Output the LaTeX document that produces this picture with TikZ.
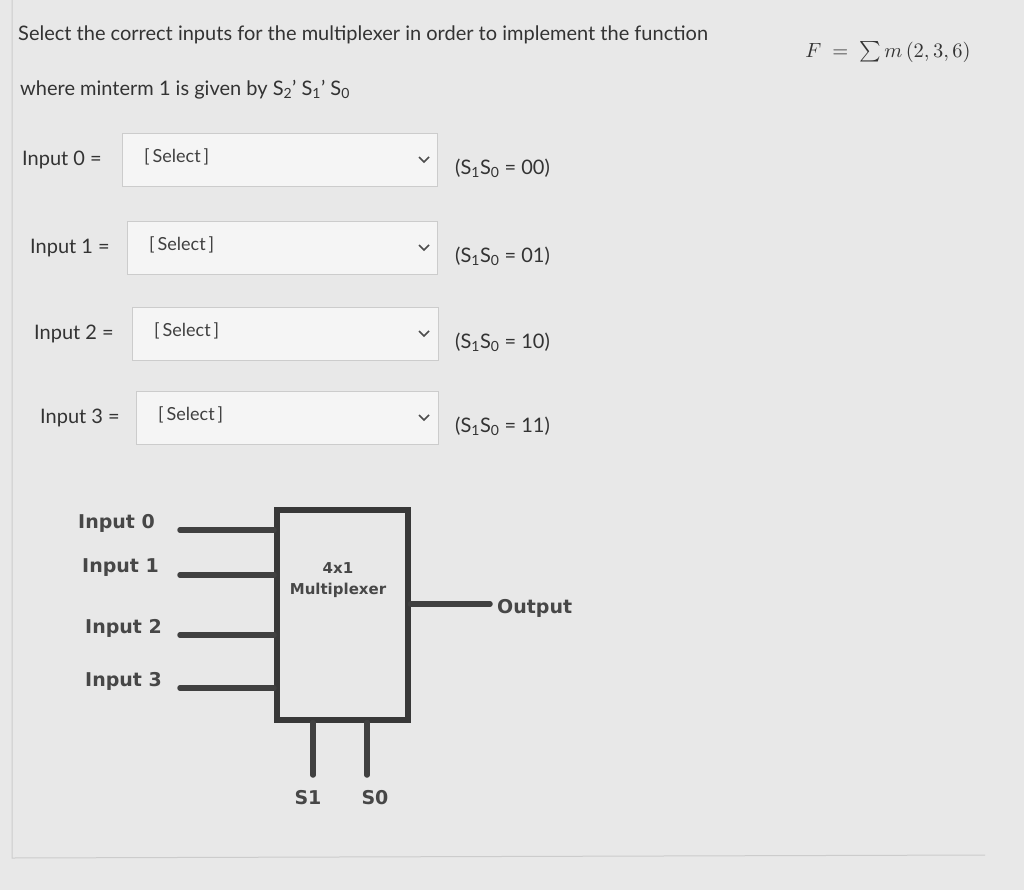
\documentclass[tikz,border=0pt]{standalone}
\usepackage{fontspec}
\setmainfont{Lato}
\newfontfamily\boldf{DejaVu Sans}
\usetikzlibrary{positioning}
\begin{document}
\begin{tikzpicture}[x=1pt,y=-1pt,
  txt/.style={anchor=west,inner sep=0,text=black!80,font=\fontsize{20}{24}\selectfont},
  dd/.style={draw=black!20,fill=black!4,line width=0.8pt,anchor=north west,inner sep=0},
  sel/.style={anchor=west,inner sep=0,text=black!75,font=\fontsize{18}{22}\selectfont},
  lab/.style={inner sep=0,text=black!72,font=\boldf\bfseries\fontsize{19}{22}\selectfont},
  wire/.style={line width=5.5pt,draw=black!75,line cap=round}]
\fill[black!9] (0,0) rectangle (1024,890);
\useasboundingbox (0,0) rectangle (1024,890);
\draw[black!20,line width=1pt] (12,0) -- (12,858) -- (985,855);
\node[txt] (t1) at (18,35) {Select the correct inputs for the multiplexer in order to implement the function};
\node[anchor=west,inner sep=0,text=black!80,scale=2.05] (f) at (805,52) {$F\ =\ \sum m\,(2,3,6)$};
\node[txt] (t2) at (20,90) {where minterm 1 is given by S\textsubscript{2}' S\textsubscript{1}' S\textsubscript{0}};
\foreach \i/\x/\y/\bx/\bw/\c in {0/22/160/122/315/00,1/30/248/127/310/01,2/34/334/132/306/10,3/40/418/136/302/11}{
  \node[txt] (in\i) at (\x,\y) {Input \i\ =};
  \node[dd,minimum width=\bw,minimum height=53] (d\i) at (\bx,\y-27) {};
  \node[sel] (s\i) at (\bx+22,\y-3) {[\,Select\,]};
  \node[txt] (c\i) at (455,\y+8) {(S\textsubscript{1}S\textsubscript{0} = \c)};
  \draw[black!70,line width=1.6pt] (419,\y-3) -- (424,\y+2) -- (429,\y-3);
}
\node[draw=black!78,line width=5.5pt,minimum width=131,minimum height=210,anchor=north west,inner sep=0] (mux) at (274,507) {};
\node[lab,align=center,font=\boldf\bfseries\fontsize{15}{21}\selectfont] (mt) at (338,580) {4x1\\Multiplexer};
\foreach \i/\y/\lx in {0/530/78,1/575/82,2/635/85,3/688/85}{
  \node[lab,anchor=west] (l\i) at (\lx,\y-9+2) {Input \i};
  \coordinate (w\i) at (180,\y);
  \draw[wire] (w\i) -- (w\i -| mux.west);
}
\coordinate (o) at (490,604);
\draw[wire] (o -| mux.east) -- (o);
\node[lab,anchor=west] (out) at (497,608) {Output};
\coordinate (a1) at (313,775);\coordinate (a0) at (367,775);
\draw[wire] (a1 |- mux.south) -- (a1);
\draw[wire] (a0 |- mux.south) -- (a0);
\node[lab] (S1) at (308,798) {S1};
\node[lab] (S0) at (375,798) {S0};
\end{tikzpicture}
\end{document}
